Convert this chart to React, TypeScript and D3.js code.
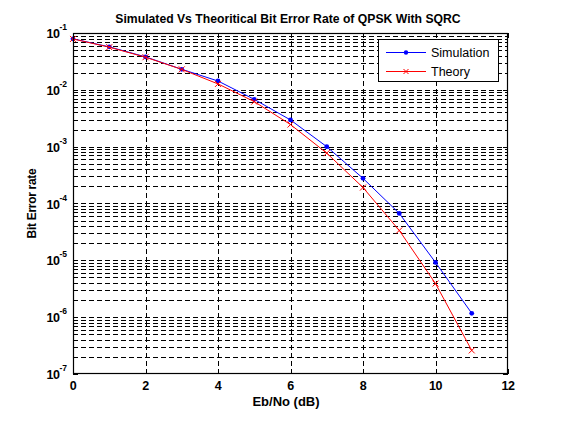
import React from "react";
import * as d3 from "d3";

const ebno = [0, 1, 2, 3, 4, 5, 6, 7, 8, 9, 10, 11];
const simBer = [7.9e-2, 5.7e-2, 3.8e-2, 2.3e-2, 1.43e-2, 6.8e-3, 2.95e-3, 1.0e-3, 2.77e-4, 6.7e-5, 9.2e-6, 1.17e-6];
const theoryBer = [7.86e-2, 5.63e-2, 3.75e-2, 2.29e-2, 1.27e-2, 6.2e-3, 2.45e-3, 7.7e-4, 1.91e-4, 3.36e-5, 3.9e-6, 2.6e-7];
const xTicks = [0, 2, 4, 6, 8, 10, 12];
const yExponents = [-1, -2, -3, -4, -5, -6, -7];
const titleText = "Simulated Vs Theoritical Bit Error Rate of QPSK With SQRC";
const xLabel = "Eb/No (dB)";
const yLabel = "Bit Error rate";
const legendLabels = ["Simulation", "Theory"];

const W = 561;
const H = 421;
const L = 73, R = 508, T = 33, B = 374;

export default function App() {
  const x = d3.scaleLinear().domain([0, 12]).range([L, R]);
  const y = d3.scaleLog().domain([1e-7, 1e-1]).range([B, T]);

  const minorVals: number[] = [];
  for (let e = -7; e < -1; e++) {
    for (let m = 2; m <= 9; m++) minorVals.push(m * Math.pow(10, e));
  }

  const line = d3
    .line<number>()
    .x((_, i) => x(ebno[i]))
    .y((d) => y(d));

  const font = "'Liberation Sans', Arial, Helvetica, sans-serif";
  const dash = "5,3";

  return (
    <svg
      width={W}
      height={H}
      style={{ position: "absolute", left: 0, top: 0, background: "#fff" }}
      fontFamily={font}
    >
      <rect x={0} y={0} width={W} height={H} fill="#fff" />
      {/* grid: x major */}
      {xTicks.slice(1, -1).map((t) => (
        <line key={"gx" + t} x1={Math.round(x(t)) + 0.5} x2={Math.round(x(t)) + 0.5} y1={T} y2={B} stroke="#000" strokeWidth={1} strokeDasharray={dash} />
      ))}
      {/* grid: y minor and major */}
      {minorVals.map((v, i) => (
        <line key={"gym" + i} x1={L} x2={R} y1={Math.round(y(v)) + 0.5} y2={Math.round(y(v)) + 0.5} stroke="#000" strokeWidth={1} strokeDasharray={dash} />
      ))}
      {yExponents.slice(1, -1).map((e) => (
        <line key={"gy" + e} x1={L} x2={R} y1={Math.round(y(Math.pow(10, e))) + 0.5} y2={Math.round(y(Math.pow(10, e))) + 0.5} stroke="#000" strokeWidth={1} strokeDasharray={dash} />
      ))}
      {/* ticks */}
      {xTicks.map((t) => (
        <g key={"tx" + t}>
          <line x1={Math.round(x(t)) + 0.5} x2={Math.round(x(t)) + 0.5} y1={B} y2={B - 5} stroke="#000" />
          <line x1={Math.round(x(t)) + 0.5} x2={Math.round(x(t)) + 0.5} y1={T} y2={T + 5} stroke="#000" />
        </g>
      ))}
      {yExponents.map((e) => {
        const yy = Math.round(y(Math.pow(10, e))) + 0.5;
        return (
          <g key={"ty" + e}>
            <line x1={L} x2={L + 5} y1={yy} y2={yy} stroke="#000" />
            <line x1={R} x2={R - 5} y1={yy} y2={yy} stroke="#000" />
          </g>
        );
      })}
      {minorVals.map((v, i) => {
        const yy = Math.round(y(v)) + 0.5;
        return (
          <g key={"tym" + i}>
            <line x1={L} x2={L + 3} y1={yy} y2={yy} stroke="#000" />
            <line x1={R} x2={R - 3} y1={yy} y2={yy} stroke="#000" />
          </g>
        );
      })}
      {/* data */}
      <path d={line(simBer) || ""} fill="none" stroke="#0000ff" strokeWidth={1} />
      {simBer.map((v, i) => (
        <circle key={"sm" + i} cx={x(ebno[i])} cy={y(v)} r={2.4} fill="#0000ff" />
      ))}
      <path d={line(theoryBer) || ""} fill="none" stroke="#ff0000" strokeWidth={1} />
      {theoryBer.map((v, i) => {
        const cx = x(ebno[i]);
        const cy = y(v);
        const s = 3;
        return (
          <g key={"tm" + i} stroke="#ff0000" strokeWidth={1}>
            <line x1={cx - s} x2={cx + s} y1={cy - s} y2={cy + s} />
            <line x1={cx - s} x2={cx + s} y1={cy + s} y2={cy - s} />
          </g>
        );
      })}
      {/* axes box */}
      <rect x={L + 0.5} y={T + 0.5} width={R - L - 1} height={B - T - 1} fill="none" stroke="#000" strokeWidth={1.2} />
      {/* x tick labels */}
      {xTicks.map((t) => (
        <text key={"xl" + t} x={x(t)} y={390} textAnchor="middle" fontSize={12.5} fontWeight="bold" letterSpacing={-0.5}>
          {t}
        </text>
      ))}
      {/* y tick labels */}
      {yExponents.map((e) => {
        const yy = y(Math.pow(10, e));
        return (
          <g key={"yl" + e}>
            <text x={59.5} y={yy + 5} textAnchor="end" fontSize={12.5} fontWeight="bold" letterSpacing={-0.5}>
              10
            </text>
            <text x={59.5} y={yy - 3} textAnchor="start" fontSize={8.5} fontWeight="bold">
              {"-" + Math.abs(e)}
            </text>
          </g>
        );
      })}
      {/* title */}
      <text x={288} y={22.5} textAnchor="middle" fontSize={12.2} fontWeight="bold">
        {titleText}
      </text>
      {/* axis labels */}
      <text x={286} y={406} textAnchor="middle" fontSize={13} fontWeight="bold">
        {xLabel}
      </text>
      <text transform={`translate(36, ${(T + B) / 2}) rotate(-90)`} textAnchor="middle" fontSize={12} fontWeight="bold" letterSpacing={-0.3}>
        {yLabel}
      </text>
      {/* legend */}
      <g>
        <rect x={378.5} y={39.5} width={120} height={42} fill="#fff" stroke="#000" strokeWidth={1} />
        <line x1={386} x2={426} y1={52.5} y2={52.5} stroke="#0000ff" />
        <circle cx={406} cy={52.5} r={2.2} fill="#0000ff" />
        <text x={431} y={57} fontSize={12.5}>{legendLabels[0]}</text>
        <line x1={386} x2={426} y1={71.5} y2={71.5} stroke="#ff0000" />
        <g stroke="#ff0000">
          <line x1={403.5} x2={408.5} y1={69} y2={74} />
          <line x1={403.5} x2={408.5} y1={74} y2={69} />
        </g>
        <text x={431} y={76} fontSize={12.5}>{legendLabels[1]}</text>
      </g>
    </svg>
  );
}
